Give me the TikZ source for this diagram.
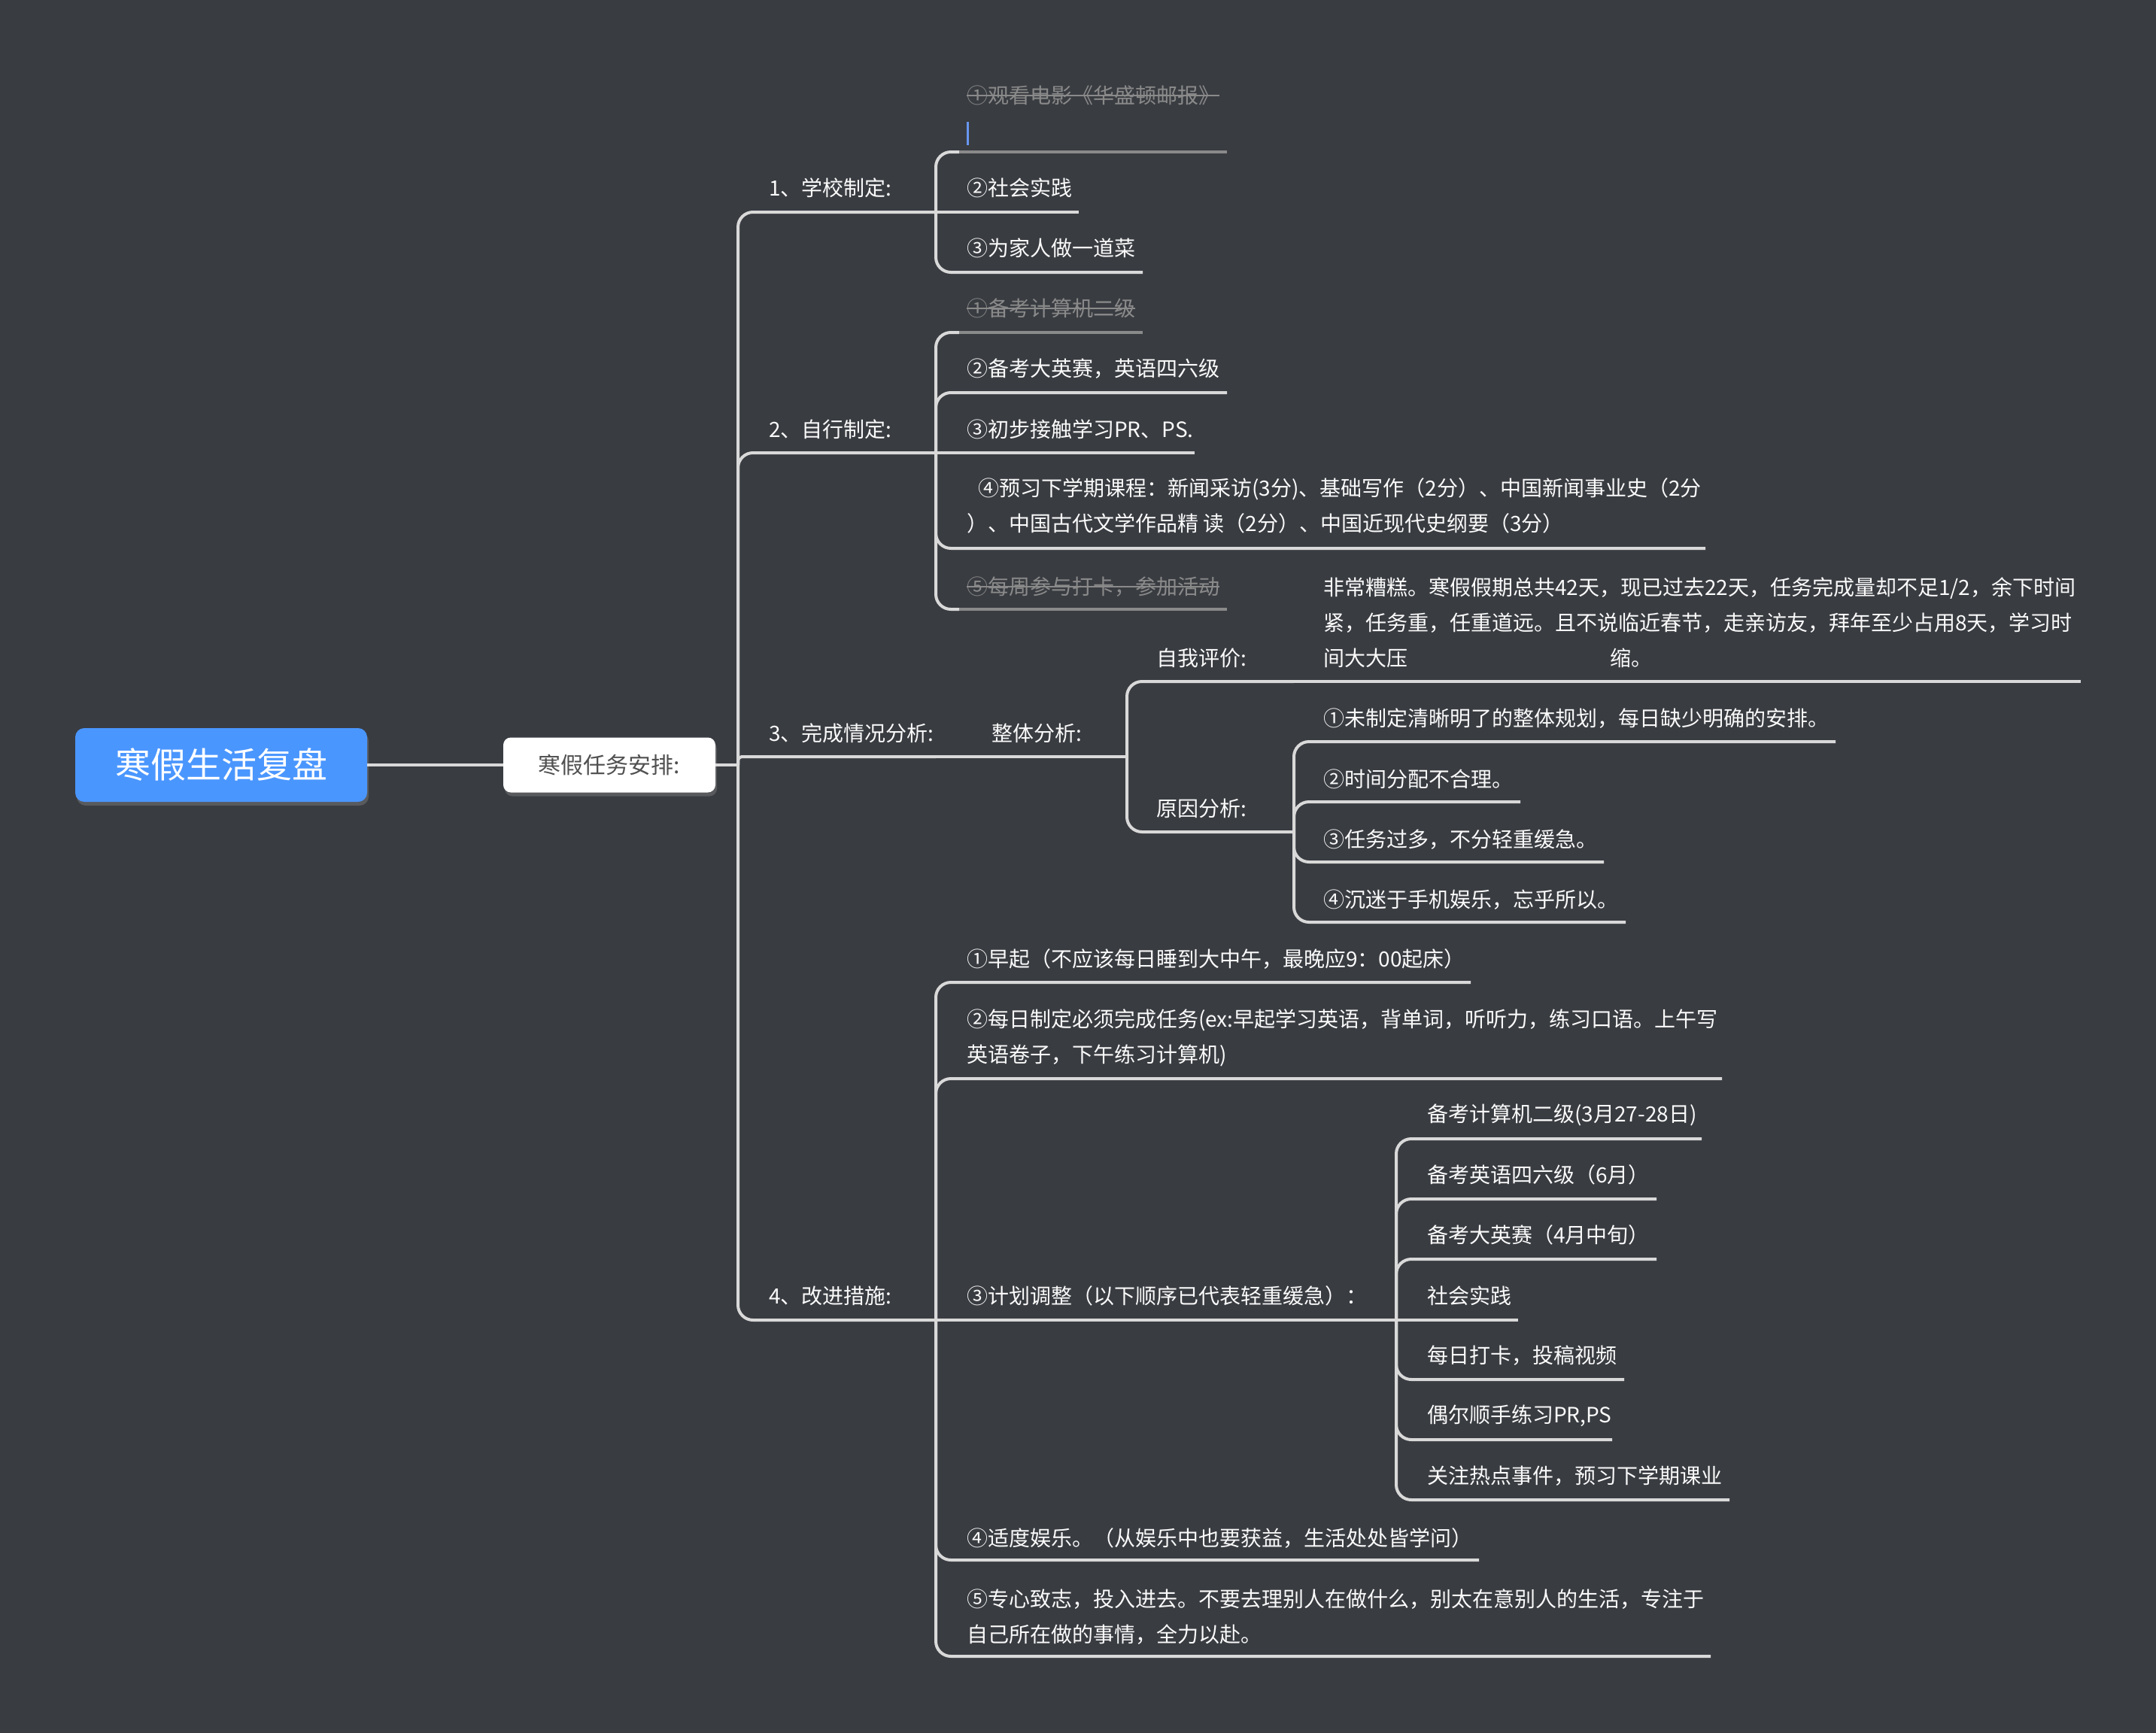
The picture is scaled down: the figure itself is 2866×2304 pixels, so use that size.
\documentclass[tikz,border=0pt]{standalone}
\usepackage{fontspec}
\setmainfont{Noto Sans CJK SC}
\usetikzlibrary{shadows}
\definecolor{bg}{RGB}{57,60,65}
\definecolor{linec}{RGB}{217,217,217}
\definecolor{txtc}{RGB}{250,250,250}
\definecolor{donec}{RGB}{138,138,138}
\definecolor{rootblue}{RGB}{74,150,255}
\definecolor{sectxt}{RGB}{80,80,80}
\definecolor{cursorc}{RGB}{105,150,240}
\begin{document}
\begin{tikzpicture}[x=1pt,y=-1pt,
  link/.style={draw=linec,line width=4pt,rounded corners=20pt},
  donel/.style={draw=donec,line width=4pt},
  lbl/.style={anchor=west,inner sep=0pt,text=txtc,font=\fontsize{28}{47}\selectfont,align=left},
  donetxt/.style={lbl,text=donec},
  strike/.style={draw=donec,line width=2pt},
  rootbox/.style={fill=rootblue,text=white,rounded corners=12pt,minimum width=388pt,minimum height=98pt,inner sep=0pt,font=\fontsize{47}{56}\selectfont,drop shadow={opacity=0.45,shadow xshift=2pt,shadow yshift=-5pt}},
  secbox/.style={fill=white,text=sectxt,rounded corners=10pt,minimum width=282pt,minimum height=73pt,inner sep=0pt,font=\fontsize{30}{36}\selectfont,drop shadow={opacity=0.45,shadow xshift=2pt,shadow yshift=-5pt}}
]
\fill[bg] (0,0) rectangle (2866,2304);
\useasboundingbox (0,0) rectangle (2866,2304);

% central nodes
\node[rootbox] (root) at (294,1017) {寒假生活复盘};
\node[secbox] (sec) at (810,1017) {寒假任务安排:};

% main trunk
\coordinate (T0) at (981,1017);
\draw[link] (root.east) -- (sec.west);
\draw[link] (sec.east) -- (T0);

% ---------- group 1
\coordinate (T1) at (1244,282);
\draw[link] (T0) |- (T1);
\coordinate (u11s) at (1275,202); \coordinate (u11e) at (1631,202);
\draw[link] (T1) |- (u11s); \draw[donel] (u11s) -- (u11e);
\coordinate (u12) at (1434,282); \draw[link] (T1) -- (u12);
\coordinate (u13) at (1519,362); \draw[link] (T1) |- (u13);

\node[lbl] (t1) at (1022,250) {1、学校制定:};
\node[donetxt] (t11) at (1285,127) {①观看电影《华盛顿邮报》};
\draw[strike] (t11.west) -- (t11.east);
\draw[cursorc,line width=3pt] (1286,162) -- (1286,193);
\node[lbl] (t12) at (1285,250) {②社会实践};
\node[lbl] (t13) at (1285,330) {③为家人做一道菜};

% ---------- group 2
\coordinate (T2) at (1244,602);
\draw[link] (T0) |- (T2);
\coordinate (u21s) at (1275,442); \coordinate (u21e) at (1519,442);
\draw[link] (T2) |- (u21s); \draw[donel] (u21s) -- (u21e);
\coordinate (u22) at (1631,522); \draw[link] (T2) |- (u22);
\coordinate (u23) at (1588,602); \draw[link] (T2) -- (u23);
\coordinate (u24) at (2267,729); \draw[link] (T2) |- (u24);
\coordinate (u25s) at (1275,810); \coordinate (u25e) at (1631,810);
\draw[link] (T2) |- (u25s); \draw[donel] (u25s) -- (u25e);

\node[lbl] (t2) at (1022,571) {2、自行制定:};
\node[donetxt] (t21) at (1285,410) {①备考计算机二级};
\draw[strike] (t21.west) -- (t21.east);
\node[lbl] (t22) at (1285,490) {②备考大英赛，英语四六级};
\node[lbl] (t23) at (1285,571) {③初步接触学习PR、PS.};
\node[lbl] (t24) at (1285,672) {\hspace*{15pt}④预习下学期课程：新闻采访(3分)、基础写作（2分）、中国新闻事业史（2分\\）、中国古代文学作品精 读（2分）、中国近现代史纲要（3分）};
\node[donetxt] (t25) at (1285,780) {⑤每周参与打卡，参加活动};
\draw[strike] (t25.west) -- (t25.east);

% ---------- group 3
\coordinate (T3a) at (1244,1006);
\draw[link,rounded corners=5pt] (T0) |- (T3a);
\coordinate (T3) at (1498,1006); \draw[link] (T3a) -- (T3);
\coordinate (T31) at (1720,906); \draw[link] (T3) |- (T31);
\coordinate (u311) at (2766,906); \draw[link] (T31) -- (u311);
\coordinate (T32) at (1720,1106); \draw[link] (T3) |- (T32);
\coordinate (u321) at (2440,986); \draw[link] (T32) |- (u321);
\coordinate (u322) at (2021,1066); \draw[link] (T32) |- (u322);
\coordinate (u323) at (2132,1146); \draw[link] (T32) |- (u323);
\coordinate (u324) at (2161,1226); \draw[link] (T32) |- (u324);

\node[lbl] (t3) at (1022,975) {3、完成情况分析:};
\node[lbl] (t31) at (1318,975) {整体分析:};
\node[lbl] (t311) at (1537,875) {自我评价:};
\node[lbl] (t3111) at (1759,828) {非常糟糕。寒假假期总共42天，现已过去22天，任务完成量却不足1/2，余下时间\\紧，任务重，任重道远。且不说临近春节，走亲访友，拜年至少占用8天，学习时\\间大大压\hspace{269pt}缩。};
\node[lbl] (t312) at (1537,1075) {原因分析:};
\node[lbl] (t3121) at (1759,955) {①未制定清晰明了的整体规划，每日缺少明确的安排。};
\node[lbl] (t3122) at (1759,1036) {②时间分配不合理。};
\node[lbl] (t3123) at (1759,1116) {③任务过多，不分轻重缓急。};
\node[lbl] (t3124) at (1759,1196) {④沉迷于手机娱乐，忘乎所以。};

% ---------- group 4
\coordinate (T4) at (1244,1755);
\draw[link] (T0) |- (T4);
\coordinate (u41) at (1955,1306); \draw[link] (T4) |- (u41);
\coordinate (u42) at (2289,1434); \draw[link] (T4) |- (u42);
\coordinate (T43) at (1856,1755); \draw[link] (T4) -- (T43);
\coordinate (u44) at (1966,2074); \draw[link] (T4) |- (u44);
\coordinate (u45) at (2274,2202); \draw[link] (T4) |- (u45);
\coordinate (u431) at (2262,1514); \draw[link] (T43) |- (u431);
\coordinate (u432) at (2202,1594); \draw[link] (T43) |- (u432);
\coordinate (u433) at (2202,1674); \draw[link] (T43) |- (u433);
\coordinate (u434) at (2018,1755); \draw[link] (T43) -- (u434);
\coordinate (u435) at (2159,1834); \draw[link] (T43) |- (u435);
\coordinate (u436) at (2143,1914); \draw[link] (T43) |- (u436);
\coordinate (u437) at (2299,1994); \draw[link] (T43) |- (u437);

\node[lbl] (t4) at (1022,1723) {4、改进措施:};
\node[lbl] (t41) at (1285,1275) {①早起（不应该每日睡到大中午，最晚应9：00起床）};
\node[lbl] (t42) at (1285,1380) {②每日制定必须完成任务(ex:早起学习英语，背单词，听听力，练习口语。上午写\\英语卷子，下午练习计算机)};
\node[lbl] (t43) at (1285,1723) {③计划调整（以下顺序已代表轻重缓急）：};
\node[lbl] (t431) at (1897,1482) {备考计算机二级(3月27-28日)};
\node[lbl] (t432) at (1897,1562) {备考英语四六级（6月）};
\node[lbl] (t433) at (1897,1642) {备考大英赛（4月中旬）};
\node[lbl] (t434) at (1897,1723) {社会实践};
\node[lbl] (t435) at (1897,1802) {每日打卡，投稿视频};
\node[lbl] (t436) at (1897,1882) {偶尔顺手练习PR,PS};
\node[lbl] (t437) at (1897,1962) {关注热点事件，预习下学期课业};
\node[lbl] (t44) at (1285,2045) {④适度娱乐。（从娱乐中也要获益，生活处处皆学问）};
\node[lbl] (t45) at (1285,2150) {⑤专心致志，投入进去。不要去理别人在做什么，别太在意别人的生活，专注于\\自己所在做的事情，全力以赴。};
\end{tikzpicture}
\end{document}
